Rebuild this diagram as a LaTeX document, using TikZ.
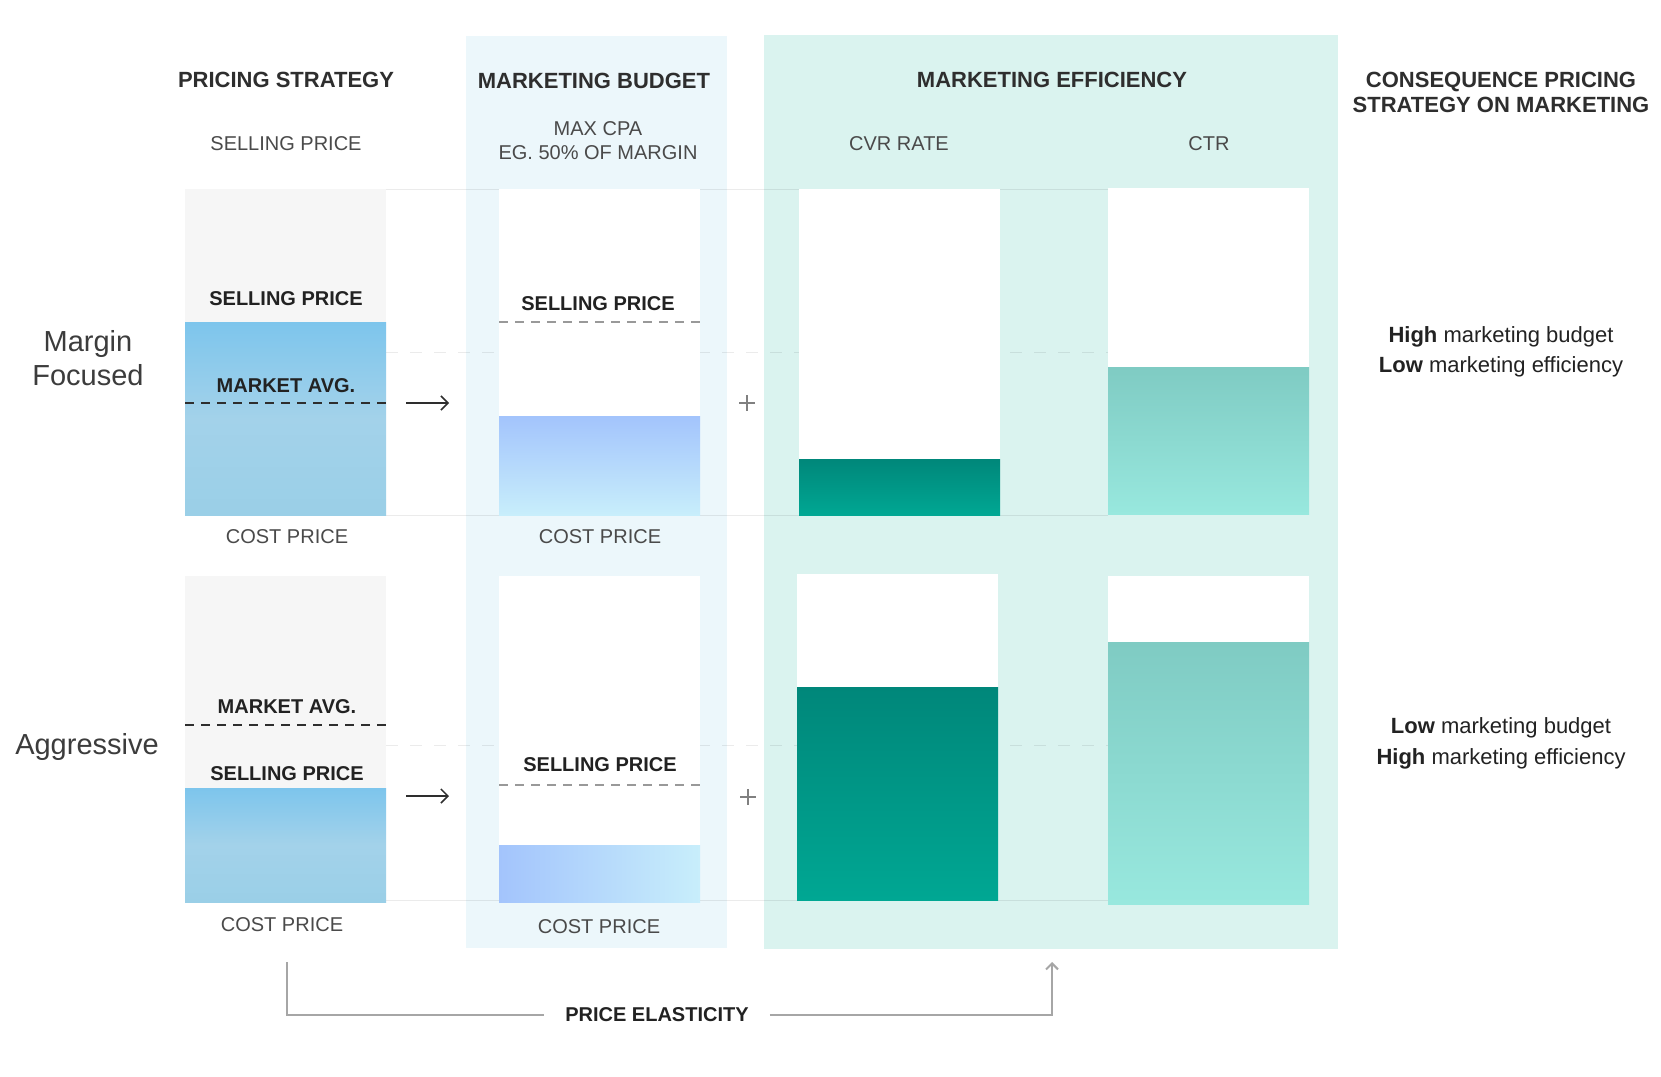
\documentclass[tikz,border=0pt]{standalone}
\usepackage{fontspec}
\setmainfont{Liberation Sans}
\usetikzlibrary{arrows.meta}
\definecolor{budgetbg}{HTML}{ECF7FB}
\definecolor{effbg}{HTML}{DAF3EF}
\definecolor{pgray}{HTML}{F6F6F6}
\definecolor{pbA}{HTML}{7DC5EC}
\definecolor{pbB}{HTML}{A3D2EA}
\definecolor{pbC}{HTML}{9ACFE7}
\definecolor{bbA}{HTML}{A3C4FC}
\definecolor{bbB}{HTML}{C8EEFB}
\definecolor{cvA}{HTML}{00877A}
\definecolor{cvB}{HTML}{00A793}
\definecolor{ctA}{HTML}{7FCBC3}
\definecolor{ctB}{HTML}{98E8DE}
\definecolor{hdr}{HTML}{2E2E2E}
\definecolor{sub}{HTML}{4A4A4A}
\definecolor{ink}{HTML}{222222}
\definecolor{rowc}{HTML}{3C3C3C}
\begin{document}
\begin{tikzpicture}[x=1pt,y=-1pt,
  txt/.style={inner sep=0pt,anchor=base},
  header/.style={txt,font=\fontsize{22}{26}\selectfont\bfseries,text=hdr},
  subhdr/.style={txt,font=\fontsize{20}{24}\selectfont,text=sub},
  inbar/.style={txt,font=\fontsize{20}{24}\selectfont\bfseries,text=ink},
  rowname/.style={txt,font=\fontsize{29}{36}\selectfont,text=rowc},
  conseq/.style={txt,font=\fontsize{22}{29}\selectfont,text=ink},
  guide/.style={draw=black,draw opacity=0.08,line width=1pt},
  guidedash/.style={draw=black,draw opacity=0.08,line width=1pt,dash pattern=on 12pt off 12pt},
  darkdash/.style={draw=hdr,line width=2pt,dash pattern=on 9pt off 7pt},
  graydash/.style={draw=black!40,line width=1.5pt,dash pattern=on 9pt off 7pt},
  flow/.style={draw=hdr,line width=1.5pt,-{Straight Barb[length=7pt,width=14pt]}},
  elast/.style={draw=black!35,line width=2pt},
  plus/.style={draw=black!50,line width=1.5pt}]
\useasboundingbox (0,0) rectangle (1661,1076);
\fill[white] (0,0) rectangle (1661,1076);
% column backgrounds
\fill[budgetbg] (466,36) rectangle (727,948);
\fill[effbg] (764,35) rectangle (1338,949);
% guide lines
\draw[guide] (386,189.5) -- (1108,189.5);
\draw[guide] (386,515) -- (1108,515);
\draw[guide] (386,900.5) -- (1108,900.5);
\draw[guidedash] (386,352) -- (1108,352);
\draw[guidedash] (386,745) -- (1108,745);
% ---- row 1 bars
\fill[pgray] (185,189) rectangle (386,322);
\shade[top color=pbA,bottom color=pbC,middle color=pbB] (185,322) rectangle (386,515);
\draw[darkdash] (185,403) -- (386,403);
\fill[white] (499,189) rectangle (700,515);
\shade[top color=bbA,bottom color=bbB] (499,416) rectangle (700,515);
\draw[graydash] (499,322) -- (700,322);
\fill[white] (799,189) rectangle (1000,515);
\shade[top color=cvA,bottom color=cvB] (799,459) rectangle (1000,515);
\fill[white] (1108,188) rectangle (1309,514);
\shade[top color=ctA,bottom color=ctB] (1108,367) rectangle (1309,514);
% ---- row 2 bars
\fill[pgray] (185,576) rectangle (386,788);
\shade[top color=pbA,bottom color=pbC,middle color=pbB] (185,788) rectangle (386,902);
\draw[darkdash] (185,725) -- (386,725);
\fill[white] (499,576) rectangle (700,902);
\shade[left color=bbA,right color=bbB] (499,845) rectangle (700,902);
\draw[graydash] (499,785) -- (700,785);
\fill[white] (797,574) rectangle (998,900);
\shade[top color=cvA,bottom color=cvB] (797,687) rectangle (998,900);
\fill[white] (1108,576) rectangle (1309,904);
\shade[top color=ctA,bottom color=ctB] (1108,642) rectangle (1309,904);
% ---- headers
\node[header] (hPS) at (286,87.5) {PRICING STRATEGY};
\node[header] (hMB) at (594,88) {MARKETING BUDGET};
\node[header] (hME) at (1052,87.5) {MARKETING EFFICIENCY};
\node[header] (hC1) at (1501,87.5) {CONSEQUENCE PRICING};
\node[header] (hC2) at (1501,112.5) {STRATEGY ON MARKETING};
\node[subhdr] (sSP) at (286,150.7) {SELLING PRICE};
\node[subhdr] (sCPA) at (598,135) {MAX CPA};
\node[subhdr] (sEG) at (598,159.6) {EG. 50\% OF MARGIN};
\node[subhdr] (sCVR) at (899,150.7) {CVR RATE};
\node[subhdr] (sCTR) at (1209,150.7) {CTR};
% ---- row 1 texts
\node[rowname] (mf1) at (88,351) {Margin};
\node[rowname] (mf2) at (88,385) {Focused};
\node[inbar] (r1sp) at (286,305.4) {SELLING PRICE};
\node[inbar] (r1ma) at (286,392.9) {MARKET AVG.};
\node[inbar] (r1bsp) at (598,310) {SELLING PRICE};
\node[subhdr] (r1cp) at (287,543.6) {COST PRICE};
\node[subhdr] (r1bcp) at (600,543.6) {COST PRICE};
\node[conseq] (r1c1) at (1501,342) {\textbf{High} marketing budget};
\node[conseq] (r1c2) at (1501,372) {\textbf{Low} marketing efficiency};
% ---- row 2 texts
\node[rowname] (ag) at (87,754) {Aggressive};
\node[inbar] (r2ma) at (287,713.3) {MARKET AVG.};
\node[inbar] (r2sp) at (287,780.3) {SELLING PRICE};
\node[inbar] (r2bsp) at (600,771.8) {SELLING PRICE};
\node[subhdr] (r2cp) at (282,931.5) {COST PRICE};
\node[subhdr] (r2bcp) at (599,933.8) {COST PRICE};
\node[conseq] (r2c1) at (1501,733.8) {\textbf{Low} marketing budget};
\node[conseq] (r2c2) at (1501,764) {\textbf{High} marketing efficiency};
% ---- arrows and plus signs
\coordinate (a1s) at (406,403); \coordinate (a1e) at (449,403);
\coordinate (a2s) at (406,796); \coordinate (a2e) at (449,796);
\draw[flow] (a1s) -- (a1e);
\draw[flow] (a2s) -- (a2e);
\draw[plus] (739,403) -- (755,403) (747,395) -- (747,411);
\draw[plus] (740,797) -- (756,797) (748,789) -- (748,805);
% ---- price elasticity connector
\node[inner xsep=21pt,inner ysep=0pt,font=\fontsize{20}{24}\selectfont\bfseries,text=ink] (pe) at (657,1015) {PRICE ELASTICITY};
\coordinate (eS) at (287,962);
\coordinate (eE) at (1052,962);
\draw[elast] (eS) |- (pe.west);
\draw[elast,-{Straight Barb[length=6pt,width=12pt]}] (pe.east) -| (eE);
\end{tikzpicture}
\end{document}
